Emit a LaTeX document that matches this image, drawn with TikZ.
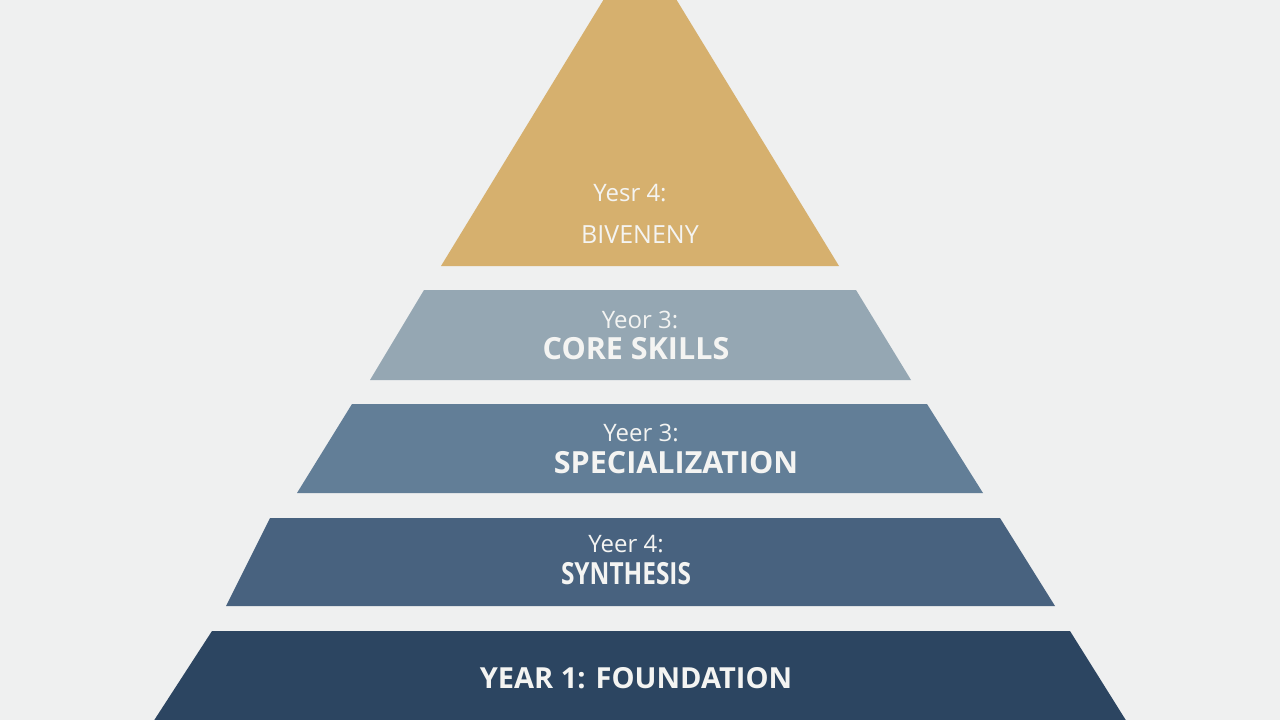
\documentclass[tikz,border=0pt]{standalone}
\usepackage{fontspec}
\setmainfont{Open Sans}
\definecolor{bgc}{HTML}{EFF0F0}
\definecolor{gold}{HTML}{D6B06E}
\definecolor{lay2}{HTML}{95A7B3}
\definecolor{lay3}{HTML}{627E97}
\definecolor{lay4}{HTML}{48627F}
\definecolor{lay5}{HTML}{2C4561}
\definecolor{txt}{HTML}{F4F4F2}
\begin{document}
\begin{tikzpicture}[x=1pt,y=-1pt,
  yearlbl/.style={text=txt,font=\fontsize{24}{26}\selectfont,inner sep=0pt},
  titlelbl/.style={text=txt,font=\fontsize{30.5}{32}\selectfont\bfseries,inner sep=0pt}]
\useasboundingbox (0,0) rectangle (1280,720);
\fill[bgc] (0,0) rectangle (1280,720);
% apex triangle
\fill[gold] (640,-60) -- (839,266) -- (441,266) -- cycle;
% layers
\fill[lay2] (424,290) -- (856,290) -- (911,380) -- (370,380) -- cycle;
\fill[lay3] (352,404) -- (927,404) -- (983,493) -- (297,493) -- cycle;
\fill[lay4] (270,518) -- (1000,518) -- (1055,606) -- (226,606) -- cycle;
\fill[lay5] (212,631) -- (1070,631) -- (1127,722) -- (153,722) -- cycle;
% labels
\node[yearlbl] (t1) at (630,193) {Yesr 4:};
\node[yearlbl,font=\fontsize{25}{26}\selectfont] (t2) at (640,235) {BIVENENY};
\node[yearlbl] (c1) at (640,320) {Yeor 3:};
\node[titlelbl] (c2) at (636,349) {CORE SKILLS};
\node[yearlbl] (s1) at (641,433) {Yeer 3:};
\node[titlelbl] (s2) at (676,463) {SPECIALIZATION};
\node[yearlbl] (y1) at (626,544) {Yeer 4:};
\node[titlelbl,xscale=0.8] (y2) at (626,574) {SYNTHESIS};
\node[titlelbl,font=\fontsize{29}{31}\selectfont\bfseries] (f1) at (636,678) {YEAR 1: FOUNDATION};
\end{tikzpicture}
\end{document}
